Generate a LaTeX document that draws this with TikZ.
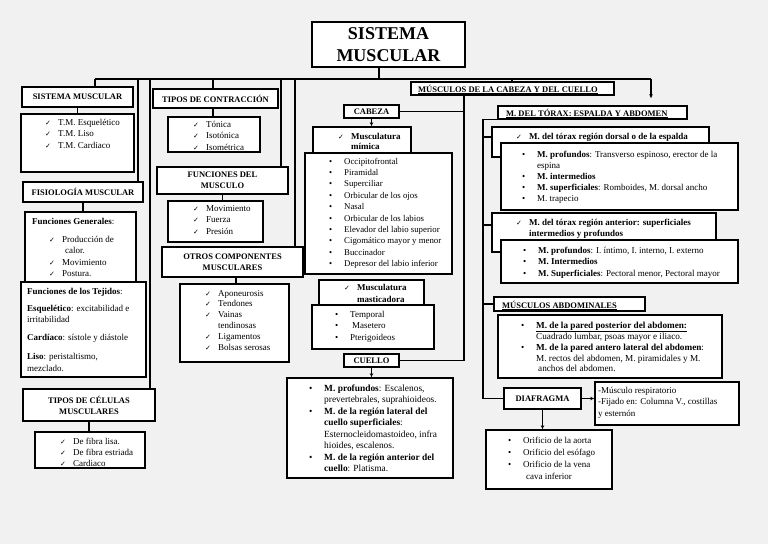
\documentclass[tikz,border=0pt]{standalone}
\usepackage{fontspec}
\setmainfont{Liberation Serif}
\newfontfamily\symfont{DejaVu Sans}
\usetikzlibrary{arrows.meta}
\definecolor{bgc}{RGB}{241,241,241}
\newcommand{\ck}{\makebox[13pt][l]{\symfont\fontsize{7}{7}\selectfont ✓}}
\newcommand{\bu}{\makebox[15pt][l]{\textbullet}}

\begin{document}
\begin{tikzpicture}[x=1pt,y=-1pt,
		bx/.style={draw,line width=1.7pt,fill=white,inner sep=0pt},
		hd/.style={font=\fontsize{8.5}{11}\selectfont\bfseries,align=center},
		tx/.style={font=\fontsize{9}{11.5}\selectfont,inner sep=0pt,anchor=base west},
		ln/.style={line width=1.1pt},
		arr/.style={-{Stealth[length=4pt,width=3.5pt]}}]
		\fill[bgc] (0,0) rectangle (768,544);
		% title
		\node[bx,minimum width=153pt,minimum height=45pt,font=\fontsize{18}{22}\selectfont\bfseries,align=center] (title) at (388.5,44.5) {SISTEMA\\MUSCULAR};
		% left column
		\node[bx,hd,minimum width=111pt,minimum height=20pt] (sm) at (77.5,97) {SISTEMA MUSCULAR};
		\node[bx,minimum width=113pt,minimum height=58pt] (tm) at (77.5,143) {};
		\node[bx,hd,minimum width=120pt,minimum height=20pt] (fisio) at (83,192) {FISIOLOGÍA MUSCULAR};
		\node[bx,minimum width=111pt,minimum height=74pt] (fgen) at (80.5,249) {};
		\node[bx,minimum width=125pt,minimum height=95pt] (ftej) at (83.5,329.5) {};
		\node[bx,hd,minimum width=132pt,minimum height=32pt] (tcel) at (89,405) {TIPOS DE CÉLULAS\\MUSCULARES};
		\node[bx,minimum width=110pt,minimum height=36pt] (tcell) at (90,450) {};
		% second column
		\node[bx,hd,minimum width=125pt,minimum height=19pt] (tcon) at (215.5,98.5) {TIPOS DE CONTRACCIÓN};
		\node[bx,minimum width=92pt,minimum height=35pt] (tconl) at (214,134.5) {};
		\node[bx,hd,minimum width=131pt,minimum height=27pt] (fmus) at (222.5,180.5) {FUNCIONES DEL\\MUSCULO};
		\node[bx,minimum width=95pt,minimum height=41pt] (fmusl) at (215.5,221.5) {};
		\node[bx,hd,minimum width=141pt,minimum height=30pt] (otros) at (232.5,262) {OTROS COMPONENTES\\MUSCULARES};
		\node[bx,minimum width=109pt,minimum height=78pt] (otrosl) at (234.5,323) {};
		% head and neck
		\node[bx,minimum width=203pt,minimum height=13pt] (mcab) at (512.5,88.5) {};
		\node[bx,hd,minimum width=55pt,minimum height=13pt] (cabeza) at (371.5,111.5) {CABEZA};
		\node[bx,minimum width=98pt,minimum height=33pt] (mimica) at (362,143.5) {};
		\node[bx,minimum width=147pt,minimum height=121pt] (mimical) at (378.5,213.5) {};
		\node[bx,minimum width=105pt,minimum height=28pt] (mast) at (371.5,294) {};
		\node[bx,minimum width=122pt,minimum height=44pt] (mastl) at (373,327) {};
		\node[bx,hd,minimum width=55pt,minimum height=13pt] (cuello) at (371.5,360.5) {CUELLO};
		\node[bx,minimum width=166pt,minimum height=100pt] (cuellol) at (370,428) {};
		% thorax and abdomen
		\node[bx,minimum width=189pt,minimum height=13pt] (torax) at (592.5,112.5) {};
		\node[bx,minimum width=217pt,minimum height=30pt] (dorsal) at (600.5,142) {};
		\node[bx,minimum width=237pt,minimum height=67pt] (dorsall) at (619.5,176.5) {};
		\node[bx,minimum width=224pt,minimum height=39pt] (anterior) at (604,232.5) {};
		\node[bx,minimum width=237pt,minimum height=43pt] (anteriorl) at (619.5,261.5) {};
		\node[bx,minimum width=151pt,minimum height=14pt] (abdomh) at (569.5,304) {};
		\node[bx,minimum width=224pt,minimum height=63pt] (abdoml) at (610,346.5) {};
		\node[bx,hd,minimum width=77pt,minimum height=21pt] (diaf) at (542.5,398.5) {DIAFRAGMA};
		\node[bx,minimum width=144pt,minimum height=43pt] (diafr) at (667,403.5) {};
		\node[bx,minimum width=126pt,minimum height=59pt] (diafl) at (549,459.5) {};
		% texts
		\node[tx] (tmt) at (45,125) {\begin{tabular}[t]{@{}l@{}}\ck T.M. Esquelético\\\ck T.M. Liso\\\ck T.M. Cardiaco\end{tabular}};
		\node[tx,font=\fontsize{9}{11.5}\selectfont\bfseries] (fgent) at (32,224) {Funciones Generales\textmd{:}};
		\node[tx] (fgenl) at (49,242) {\begin{tabular}[t]{@{}l@{}}\ck Producción de\\\hspace*{16pt}calor.\\\ck Movimiento\\\ck Postura.\end{tabular}};
		\node[tx] (ftejt) at (27,294) {\begin{tabular}[t]{@{}l@{}}\textbf{Funciones de los Tejidos}:\\[5.5pt]\textbf{Esquelético}: excitabilidad e\\irritabilidad\\[6.5pt]\textbf{Cardíaco}: sístole y diástole\\[7.5pt]\textbf{Liso}: peristaltismo,\\mezclado.\end{tabular}};
		\node[tx,font=\fontsize{9}{11}\selectfont] (tcelt) at (60,444) {\begin{tabular}[t]{@{}l@{}}\ck De fibra lisa.\\\ck De fibra estriada\\\ck Cardiaco\end{tabular}};
		\node[tx] (tcont) at (193,127) {\begin{tabular}[t]{@{}l@{}}\ck Tónica\\\ck Isotónica\\\ck Isométrica\end{tabular}};
		\node[tx] (fmust) at (193,211) {\begin{tabular}[t]{@{}l@{}}\ck Movimiento\\\ck Fuerza\\\ck Presión\end{tabular}};
		\node[tx,font=\fontsize{9}{10.8}\selectfont] (otrost) at (205,296) {\begin{tabular}[t]{@{}l@{}}\ck Aponeurosis\\\ck Tendones\\\ck Vainas\\\hspace*{13pt}tendinosas\\\ck Ligamentos\\\ck Bolsas serosas\end{tabular}};
		\node[hd,inner sep=0pt,anchor=base west] (mcabt) at (418,92) {\underline{MÚSCULOS DE LA CABEZA Y DEL CUELLO}};
		\node[tx,font=\fontsize{9}{10}\selectfont\bfseries] (mimicat) at (338,139) {\begin{tabular}[t]{@{}l@{}}\ck Musculatura\\\hspace*{13pt}mímica\end{tabular}};
		\node[tx,font=\fontsize{8.8}{11.4}\selectfont] (mimicalt) at (329,164) {\begin{tabular}[t]{@{}l@{}}\bu Occipitofrontal\\\bu Piramidal\\\bu Superciliar\\\bu Orbicular de los ojos\\\bu Nasal\\\bu Orbicular de los labios\\\bu Elevador del labio superior\\\bu Cigomático mayor y menor\\\bu Buccinador\\\bu Depresor del labio inferior\end{tabular}};
		\node[tx,font=\fontsize{9}{12}\selectfont\bfseries] (mastt) at (344,290) {\begin{tabular}[t]{@{}l@{}}\ck Musculatura\\\hspace*{13pt}masticadora\end{tabular}};
		\node[tx] (mastlt) at (335,317) {\begin{tabular}[t]{@{}l@{}}\bu Temporal\\\bu\hspace{2pt}Masetero\\\bu Pterigoideos\end{tabular}};
		\node[tx,font=\fontsize{9.4}{11.5}\selectfont] (cuellot) at (309,391) {\begin{tabular}[t]{@{}l@{}}\bu \textbf{M. profundos}: Escalenos,\\\hspace*{15pt}prevertebrales, suprahioideos.\\\bu \textbf{M. de la región lateral del}\\\hspace*{15pt}\textbf{cuello superficiales}:\\\hspace*{15pt}Esternocleidomastoideo, infra\\\hspace*{15pt}hioides, escalenos.\\\bu \textbf{M. de la región anterior del}\\\hspace*{15pt}\textbf{cuello}: Platisma.\end{tabular}};
		\node[hd,inner sep=0pt,anchor=base west] (toraxt) at (506,116) {\underline{M. DEL TÓRAX: ESPALDA Y ABDOMEN}};
		\node[tx,font=\fontsize{9}{11}\selectfont\bfseries] (dorsalt) at (516,139) {\ck M. del tórax región dorsal o de la espalda};
		\node[tx,font=\fontsize{9}{11}\selectfont] (dorsallt) at (522,157) {\begin{tabular}[t]{@{}l@{}}\bu \textbf{M. profundos}: Transverso espinoso, erector de la\\\hspace*{15pt}espina\\\bu \textbf{M. intermedios}\\\bu \textbf{M. superficiales}: Romboides, M. dorsal ancho\\\bu M. trapecio\end{tabular}};
		\node[tx,font=\fontsize{9}{11}\selectfont\bfseries] (anteriort) at (516,225) {\begin{tabular}[t]{@{}l@{}}\ck M. del tórax región anterior: superficiales\\\hspace*{13pt}intermedios y profundos\end{tabular}};
		\node[tx] (anteriorlt) at (523,253) {\begin{tabular}[t]{@{}l@{}}\bu \textbf{M. profundos}: I. íntimo, I. interno, I. externo\\\bu \textbf{M. Intermedios}\\\bu \textbf{M. Superficiales}: Pectoral menor, Pectoral mayor\end{tabular}};
		\node[hd,inner sep=0pt,anchor=base west] (abdomht) at (502,308) {\underline{MÚSCULOS ABDOMINALES}};
		\node[tx,font=\fontsize{9.2}{10.8}\selectfont] (abdomlt) at (521,328) {\begin{tabular}[t]{@{}l@{}}\bu \underline{\textbf{M. de la pared posterior del abdomen:}}\\\hspace*{15pt}Cuadrado lumbar, psoas mayor e iliaco.\\\bu \textbf{M. de la pared antero lateral del abdomen}:\\\hspace*{15pt}M. rectos del abdomen, M. piramidales y M.\\\hspace*{17pt}anchos del abdomen.\end{tabular}};
		\node[tx] (diafrt) at (598,393) {\begin{tabular}[t]{@{}l@{}}-Músculo respiratorio\\-Fijado en: Columna V., costillas\\y esternón\end{tabular}};
		\node[tx,font=\fontsize{9}{12}\selectfont] (diaflt) at (508,443) {\begin{tabular}[t]{@{}l@{}}\bu Orificio de la aorta\\\bu Orificio del esófago\\\bu Orificio de la vena\\\hspace*{18pt}cava inferior\end{tabular}};
		% connectors
		\coordinate (busL) at (95,79);
		\coordinate (busR) at (651,79);
		\draw[ln,line width=1.3pt] (busL) -- (busR);
		\draw[ln] (379,79) -- (title.south -| 379,0);
		\draw[ln] (busL) -- (sm.north -| busL);
		\draw[ln] (138,79) -- (fisio.north -| 138,0);
		\draw[ln] (150,79) -- (tcel.north -| 150,0);
		\draw[ln] (213,79) -- (tcon.north -| 213,0);
		\draw[ln] (281,79) -- (fmus.north -| 281,0);
		\draw[ln] (295,79) -- (otros.north -| 295,0);
		\draw[ln] (512,79) -- (mcab.north -| 512,0);
		\draw[ln,arr,shorten >=7pt] (busR) -- (torax.north -| busR);
		\draw[ln] (sm.south) -- (tm.north);
		\draw[ln] (fisio.south) -- (fisio.south |- fgen.north);
		\draw[ln] (tcel.south) -- (tcel.south |- tcell.north);
		\draw[ln] (tcon.south -| 213,0) -- (tconl.north -| 213,0);
		\draw[ln] (fmus.south) -- (fmus.south |- fmusl.north);
		\draw[ln] (otros.south -| 236,0) -- (otrosl.north -| 236,0);
		\draw[ln,arr] (cabeza.south) -- (cabeza.south |- mimica.north);
		\draw[ln] (cabeza.east) -- (cabeza.east -| 464,0);
		\draw[ln] (mcab.south -| 464,0) -- (cuello.east -| 464,0) -- (cuello.east);
		\draw[ln,arr] (cuello.south) -- (cuello.south |- cuellol.north);
		\draw[ln] (torax.south west) -- (torax.south west -| 483,0) |- (diaf.west);
		\draw[ln] (483,137) -- (dorsal.west |- 0,137);
		\draw[ln] (483,225) -- (anterior.west |- 0,225);
		\draw[ln] (483,304) -- (abdomh.west);
		\draw[ln,arr] (diaf.east) -- (diaf.east -| diafr.west);
		\draw[ln,arr] (diaf.south) -- (diaf.south |- diafl.north);
\end{tikzpicture}
\end{document}
